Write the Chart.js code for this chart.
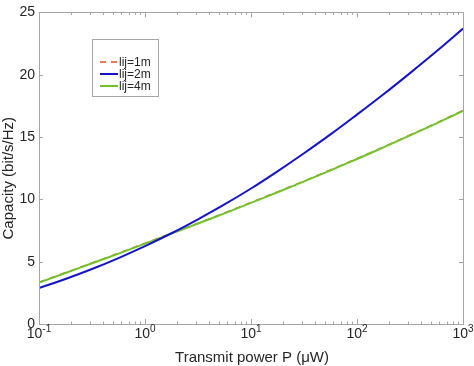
<!DOCTYPE html>
<html>
<head>
<meta charset="utf-8">
<script src="https://cdn.jsdelivr.net/npm/chart.js@4"></script>
<style>
html,body{margin:0;padding:0;background:#fff;}
#wrap{width:474px;height:366px;position:relative;}
</style>
</head>
<body>
<div id="wrap"><canvas id="c" width="474" height="366"></canvas></div>
<script>
// ---- data ----
const powerP = [0.1, 0.1778, 0.3162, 0.5623, 1, 1.778, 3.162, 5.623, 10, 17.78, 31.62, 56.23, 100, 177.8, 316.2, 562.3, 1000];
const cap1m = [3.35, 4.12, 4.90, 5.68, 6.48, 7.28, 8.09, 8.91, 9.75, 10.60, 11.47, 12.36, 13.27, 14.20, 15.16, 16.13, 17.13];
const cap2m = [2.88, 3.61, 4.41, 5.29, 6.25, 7.28, 8.40, 9.59, 10.87, 12.25, 13.70, 15.21, 16.80, 18.43, 20.13, 21.88, 23.70];
const cap4m = [3.32, 4.09, 4.87, 5.65, 6.45, 7.25, 8.06, 8.88, 9.72, 10.57, 11.44, 12.33, 13.24, 14.17, 15.13, 16.10, 17.10];
const seriesNames = ['lij=1m', 'lij=2m', 'lij=4m'];
const xTickExponents = [-1, 0, 1, 2, 3];
const yTicks = [0, 5, 10, 15, 20, 25];
const xTitle = 'Transmit power P (\u03BCW)';
const yTitle = 'Capacity (bit/s/Hz)';

const FONT = '"Liberation Sans", Arial, Helvetica, sans-serif';
const AXIS_COLOR = '#a6a6a6';
const TEXT_COLOR = '#262626';

function pts(ys){ return powerP.map((x,i)=>({x:x, y:ys[i]})); }

const boxPlugin = {
  id: 'matlabBox',
  afterDraw(chart){
    const ctx = chart.ctx, a = chart.chartArea;
    const xs = chart.scales.x, ys = chart.scales.y;
    ctx.save();
    ctx.strokeStyle = AXIS_COLOR;
    ctx.lineWidth = 1;
    ctx.strokeRect(Math.round(a.left)+0.5, Math.round(a.top)+0.5, Math.round(a.right-a.left), Math.round(a.bottom-a.top));
    ctx.beginPath();
    yTicks.forEach(v=>{
      const y = Math.round(ys.getPixelForValue(v))+0.5;
      ctx.moveTo(a.left, y); ctx.lineTo(a.left+4, y);
      ctx.moveTo(a.right, y); ctx.lineTo(a.right-4, y);
    });
    xTickExponents.forEach((e,idx)=>{
      const base = Math.pow(10,e);
      const x = Math.round(xs.getPixelForValue(base))+0.5;
      ctx.moveTo(x, a.bottom); ctx.lineTo(x, a.bottom-5);
      ctx.moveTo(x, a.top); ctx.lineTo(x, a.top+5);
      if (idx < xTickExponents.length-1){
        for(let m=2;m<=9;m++){
          const xm = Math.round(xs.getPixelForValue(base*m))+0.5;
          ctx.moveTo(xm, a.bottom); ctx.lineTo(xm, a.bottom-2.5);
          ctx.moveTo(xm, a.top); ctx.lineTo(xm, a.top+2.5);
        }
      }
    });
    ctx.stroke();
    // x tick labels with superscripts
    ctx.fillStyle = TEXT_COLOR;
    ctx.textBaseline = 'alphabetic';
    xTickExponents.forEach(e=>{
      const x = xs.getPixelForValue(Math.pow(10,e));
      ctx.font = '14px ' + FONT;
      const bw = ctx.measureText('10').width;
      ctx.font = '10px ' + FONT;
      const es = String(e);
      const ew = ctx.measureText(es).width;
      const x0 = x - (bw + ew)/2;
      ctx.font = '14px ' + FONT;
      ctx.textAlign = 'left';
      ctx.fillText('10', x0, a.bottom + 14);
      ctx.font = '10px ' + FONT;
      ctx.fillText(es, x0 + bw, a.bottom + 8);
    });
    // x title
    ctx.font = '15px ' + FONT;
    ctx.textAlign = 'center';
    ctx.fillText(xTitle, (a.left+a.right)/2 + 1, a.bottom + 38);
    // y title
    ctx.save();
    ctx.translate(13, (a.top+a.bottom)/2 + 10);
    ctx.rotate(-Math.PI/2);
    ctx.textAlign = 'center';
    ctx.textBaseline = 'alphabetic';
    ctx.fillText(yTitle, 0, 0);
    ctx.restore();
    // legend
    const lx = 92, ly = 39, lw = 66, lh = 57;
    ctx.fillStyle = '#fff';
    ctx.fillRect(lx, ly, lw, lh);
    ctx.strokeStyle = AXIS_COLOR;
    ctx.lineWidth = 1;
    ctx.strokeRect(lx+0.5, ly+0.5, lw, lh);
    chart.data.datasets.forEach((ds,i)=>{
      const yy = ly + 23 + i*12;
      ctx.beginPath();
      ctx.strokeStyle = ds.borderColor;
      ctx.lineWidth = ds.borderWidth;
      ctx.setLineDash(ds.borderDash || []);
      ctx.moveTo(lx+8, yy); ctx.lineTo(lx+26, yy);
      ctx.stroke();
      ctx.setLineDash([]);
      ctx.fillStyle = TEXT_COLOR;
      ctx.font = '12px ' + FONT;
      ctx.textAlign = 'left';
      ctx.textBaseline = 'middle';
      ctx.fillText(ds.label, lx+27, yy+1);
    });
    ctx.restore();
  }
};

new Chart(document.getElementById('c'), {
  type: 'line',
  data: {
    datasets: [
      {label: seriesNames[0], data: pts(cap1m), borderColor: '#e8501e', borderWidth: 1.5, borderDash: [6,5], pointRadius: 0, order: 2, tension: 0.4, fill:false},
      {label: seriesNames[1], data: pts(cap2m), borderColor: '#1414c8', borderWidth: 2, pointRadius: 0, order: 0, tension: 0.4, fill:false},
      {label: seriesNames[2], data: pts(cap4m), borderColor: '#72c22a', borderWidth: 2, pointRadius: 0, order: 1, tension: 0.4, fill:false}
    ]
  },
  options: {
    responsive: false,
    animation: false,
    layout: {padding: {top: 5, right: 11, left: 0, bottom: 0}},
    plugins: {legend: {display: false}, tooltip: {enabled: false}},
    scales: {
      x: {
        type: 'logarithmic', min: 0.1, max: 1000,
        grid: {display: false, drawTicks: false}, border: {display: false},
        ticks: {display: false},
        afterFit(s){ s.height = 42; }
      },
      y: {
        type: 'linear', min: 0, max: 25,
        grid: {display: false, drawTicks: false}, border: {display: false},
        afterBuildTicks(s){ s.ticks = yTicks.map(v=>({value:v})); },
        ticks: {color: TEXT_COLOR, font: {family: FONT, size: 14}, padding: 4},
        afterFit(s){ s.width = 39; }
      }
    }
  },
  plugins: [boxPlugin]
});
</script>
</body>
</html>
